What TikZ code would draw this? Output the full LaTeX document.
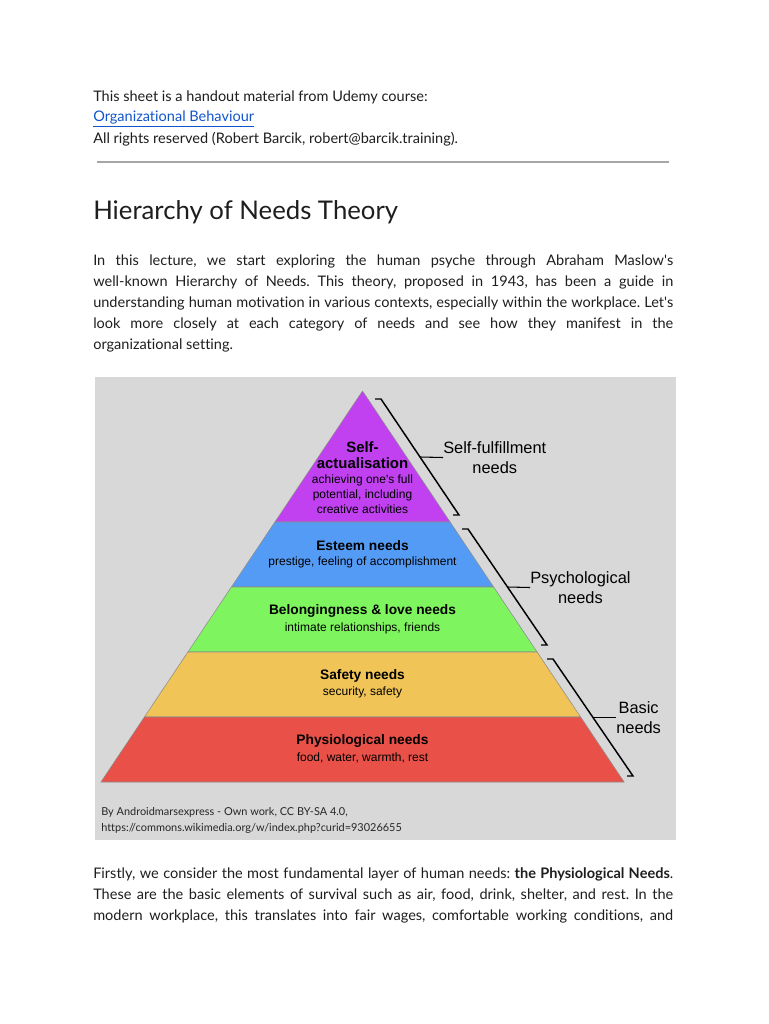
\documentclass[tikz,border=0pt]{standalone}
\usepackage{fontspec}
\setmainfont{Lato}[Ligatures={NoCommon}]
\newfontfamily\arialf{Liberation Sans}
\definecolor{purp}{RGB}{193,64,240}
\definecolor{bluel}{RGB}{84,155,245}
\definecolor{greenl}{RGB}{126,245,95}
\definecolor{yell}{RGB}{240,196,86}
\definecolor{redl}{RGB}{232,80,72}
\definecolor{imgbg}{RGB}{216,216,216}
\definecolor{linkblue}{RGB}{17,85,204}
\definecolor{textc}{RGB}{30,30,30}
\tikzset{
  body/.style={anchor=base west, inner sep=0, text=textc, font=\fontsize{10.9pt}{13pt}\selectfont},
  layer/.style={draw=black!45, line width=0.4pt},
  lbold/.style={anchor=base, inner sep=0, font=\arialf\bfseries\fontsize{10.3pt}{12pt}\selectfont},
  lnorm/.style={anchor=base, inner sep=0, font=\arialf\fontsize{9pt}{11pt}\selectfont},
  brack/.style={line width=1.1pt, black},
  glabel/.style={inner sep=0, align=center, font=\arialf\fontsize{12.3pt}{15pt}\selectfont},
  capt/.style={anchor=base west, inner sep=0, text=black!85, font=\fontsize{8.2pt}{10pt}\selectfont}
}
\newcommand{\jline}[1]{\makebox[435pt][s]{#1}}
\newcommand{\sq}{\textquotesingle}
\frenchspacing
\begin{document}
\begin{tikzpicture}[x=0.75pt,y=-0.75pt]
\useasboundingbox (0,0) rectangle (768,1024);
\fill[white] (0,0) rectangle (768,1024);
% header
\node[body] (h1) at (93,101) {This sheet is a handout material from Udemy course:};
\node[body, text=linkblue] (h2) at (93,122) {\underline{Organizational Behaviour}};
\node[body] (h3) at (93,143) {All rights reserved (Robert Barcik, robert@barcik.training).};
\coordinate (rl) at (97,162);
\coordinate (rr) at (669,162);
\draw[black!35, line width=0.8pt] (rl) -- (rr);
\node[body, font=\fontsize{19.3pt}{23pt}\selectfont] (title) at (93,219) {Hierarchy of Needs Theory};
% paragraph
\node[body] (p1) at (93,265) {\jline{In this lecture, we start exploring the human psyche through Abraham Maslow\sq s}};
\node[body] (p2) at (93,286) {\jline{well-known Hierarchy of Needs. This theory, proposed in 1943, has been a guide in}};
\node[body] (p3) at (93,307) {\jline{understanding human motivation in various contexts, especially within the workplace. Let\sq s}};
\node[body] (p4) at (93,328) {\jline{look more closely at each category of needs and see how they manifest in the}};
\node[body] (p5) at (93,349) {organizational setting.};
% image background
\fill[imgbg] (95,377) rectangle (676,840);
% pyramid
\coordinate (apex) at (362.5,391);
\coordinate (a1l) at (274.9,522); \coordinate (a1r) at (450.1,522);
\coordinate (a2l) at (231.4,587); \coordinate (a2r) at (493.6,587);
\coordinate (a3l) at (187.9,652); \coordinate (a3r) at (537.1,652);
\coordinate (a4l) at (144.4,717); \coordinate (a4r) at (580.6,717);
\coordinate (a5l) at (100.9,782); \coordinate (a5r) at (624.1,782);
\filldraw[layer, fill=purp] (apex) -- (a1r) -- (a1l) -- cycle;
\filldraw[layer, fill=bluel] (a1l) -- (a1r) -- (a2r) -- (a2l) -- cycle;
\filldraw[layer, fill=greenl] (a2l) -- (a2r) -- (a3r) -- (a3l) -- cycle;
\filldraw[layer, fill=yell] (a3l) -- (a3r) -- (a4r) -- (a4l) -- cycle;
\filldraw[layer, fill=redl] (a4l) -- (a4r) -- (a5r) -- (a5l) -- cycle;
% layer texts
\node[lbold, font=\arialf\bfseries\fontsize{11.2pt}{13pt}\selectfont] (t1a) at (362.5,452) {Self-};
\node[lbold, font=\arialf\bfseries\fontsize{11.2pt}{13pt}\selectfont] (t1b) at (362.5,468) {actualisation};
\node[lnorm] (t1c) at (362.5,483) {achieving one\sq s full};
\node[lnorm] (t1d) at (362.5,498) {potential, including};
\node[lnorm] (t1e) at (362.5,513) {creative activities};
\node[lbold] (t2a) at (362.5,550) {Esteem needs};
\node[lnorm] (t2b) at (362.5,565) {prestige, feeling of accomplishment};
\node[lbold] (t3a) at (362.5,614) {Belongingness \& love needs};
\node[lnorm] (t3b) at (362.5,631) {intimate relationships, friends};
\node[lbold] (t4a) at (362.5,679) {Safety needs};
\node[lnorm] (t4b) at (362.5,695) {security, safety};
\node[lbold] (t5a) at (362.5,744) {Physiological needs};
\node[lnorm] (t5b) at (362.5,761) {food, water, warmth, rest};
% brackets
\coordinate (s0) at (375,399); \coordinate (s1) at (381,399);
\coordinate (s2) at (459,515); \coordinate (s3) at (453,515);
\coordinate (smid) at (420,457);
\draw[brack] (s0) -- (s1) -- (s2) -- (s3);
\node[glabel, anchor=west] (sl) at (443,457.5) {Self-fulfillment\\needs};
\draw[line width=0.8pt] (smid) -- (sl.west);
\coordinate (q0) at (462,529); \coordinate (q1) at (468,529);
\coordinate (q2) at (547,645); \coordinate (q3) at (541,645);
\coordinate (qmid) at (507.5,587);
\draw[brack] (q0) -- (q1) -- (q2) -- (q3);
\node[glabel, anchor=west] (ql) at (530,587.5) {Psychological\\needs};
\draw[line width=0.8pt] (qmid) -- (ql.west);
\coordinate (b0) at (547,659); \coordinate (b1) at (553,659);
\coordinate (b2) at (633,776); \coordinate (b3) at (627,776);
\coordinate (bmid) at (593,717.5);
\draw[brack] (b0) -- (b1) -- (b2) -- (b3);
\node[glabel, anchor=west] (bl) at (616,717.5) {Basic\\needs};
\draw[line width=0.8pt] (bmid) -- (bl.west);
% caption
\node[capt] (c1) at (101,815) {By Androidmarsexpress - Own work, CC BY-SA 4.0,};
\node[capt] (c2) at (101,831) {https://commons.wikimedia.org/w/index.php?curid=93026655};
% bottom paragraph
\node[body] (f1) at (93,878) {\jline{Firstly, we consider the most fundamental layer of human needs: \textbf{the Physiological Needs}.}};
\node[body] (f2) at (93,899) {\jline{These are the basic elements of survival such as air, food, drink, shelter, and rest. In the}};
\node[body] (f3) at (93,920) {\jline{modern workplace, this translates into fair wages, comfortable working conditions, and}};
\end{tikzpicture}
\end{document}
